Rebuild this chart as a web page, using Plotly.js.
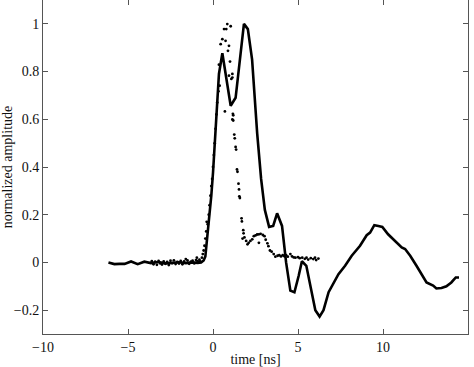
<!DOCTYPE html>
<html>
<head>
<meta charset="utf-8">
<script src="https://cdn.plot.ly/plotly-3.0.1.min.js"></script>
<style>html,body{margin:0;padding:0;background:#fff;}#chart{width:474px;height:367px;}</style>
</head>
<body>
<div id="chart"></div>
<script>
// Solid curve (simulated / reference pulse)
var solidX = [-6.15,-5.8,-5.5,-5.2,-4.82,-4.43,-4.04,-3.65,-3.2,-2.8,-2.4,-2.0,-1.6,-1.2,-0.9,-0.7,-0.55,-0.45,-0.37,-0.23,-0.1,0,0.1,0.2,0.35,0.55,0.76,1.04,1.33,1.58,1.82,2.05,2.3,2.6,2.83,3.05,3.3,3.54,3.77,4.06,4.3,4.55,4.79,5.04,5.23,5.49,5.82,6.02,6.27,6.5,6.8,7.09,7.38,7.77,8.16,8.65,9.04,9.24,9.49,9.73,9.96,10.3,10.7,11.1,11.3,11.6,11.97,12.27,12.56,12.95,13.14,13.44,13.73,14.02,14.28,14.47];
var solidY = [0,-0.007,-0.006,-0.006,0.004,-0.007,0.003,-0.003,0.002,-0.004,-0.002,0.001,-0.003,0.0,-0.002,0.0,0.008,0.025,0.084,0.18,0.28,0.376,0.5,0.64,0.79,0.877,0.79,0.657,0.69,0.85,1.0,0.978,0.85,0.54,0.35,0.22,0.149,0.153,0.206,0.153,0.0,-0.118,-0.125,-0.056,0.005,-0.014,-0.125,-0.2,-0.227,-0.2,-0.125,-0.09,-0.049,-0.014,0.028,0.07,0.114,0.125,0.156,0.153,0.149,0.118,0.09,0.063,0.056,0.028,-0.014,-0.049,-0.084,-0.097,-0.109,-0.107,-0.1,-0.084,-0.063,-0.063];

// Dotted curve (measured samples)
var dotX = [-3.6,-3.5,-3.4,-3.3,-3.2,-3.1,-3.0,-2.9,-2.8,-2.7,-2.6,-2.5,-2.4,-2.3,-2.2,-2.1,-2.0,-1.9,-1.8,-1.7,-1.6,-1.5,-1.4,-1.3,-1.2,-1.1,-1.0,-0.95,-0.9,-0.8,-0.75,-0.65,-0.6,-0.55,-0.5,-0.45,-0.4,-0.37,-0.31,-0.25,-0.2,-0.15,-0.1,-0.05,0.0,0.05,0.1,0.15,0.2,0.25,0.32,0.35,0.39,0.45,0.55,0.65,0.7,0.74,0.78,0.84,0.88,0.94,0.94,1.0,1.04,1.08,1.14,1.14,1.14,1.17,1.19,1.19,1.25,1.28,1.33,1.36,1.41,1.44,1.5,1.53,1.55,1.58,1.68,1.7,1.74,1.78,1.8,1.85,1.95,2.03,2.1,2.2,2.31,2.4,2.5,2.6,2.7,2.7,2.8,2.93,3.03,3.1,3.2,3.26,3.35,3.45,3.57,3.67,3.8,3.9,4.0,4.1,4.2,4.3,4.4,4.55,4.65,4.75,4.85,5.0,5.1,5.25,5.4,5.5,5.6,5.75,5.9,6.0,6.07,6.2];
var dotY = [0.005,-0.008,0.003,-0.01,0.006,-0.004,-0.009,0.004,-0.006,0.002,-0.011,0.007,-0.003,0.009,-0.007,0.002,-0.005,0.006,-0.008,0.004,0.014,0.008,-0.006,0.003,0.007,-0.004,0.01,0.02,0.005,0.012,0.004,0.02,0.035,0.05,0.07,0.1,0.13,0.17,0.16,0.2,0.24,0.28,0.32,0.35,0.4,0.45,0.5,0.56,0.62,0.67,0.717,0.829,0.741,0.915,0.936,0.978,0.633,0.929,0.978,0.999,0.887,0.908,0.783,0.842,0.99,0.769,0.79,0.775,0.599,0.623,0.595,0.617,0.536,0.52,0.484,0.473,0.39,0.38,0.33,0.306,0.277,0.27,0.185,0.172,0.1,0.135,0.122,0.105,0.09,0.076,0.082,0.09,0.097,0.11,0.113,0.117,0.118,0.082,0.12,0.115,0.11,0.095,0.08,0.068,0.05,0.045,0.035,0.024,0.028,0.03,0.025,0.03,0.026,0.03,0.024,0.035,0.025,0.021,0.02,0.022,0.018,0.02,0.015,0.02,0.012,0.018,0.014,0.02,0.01,0.016];

var xTicks = [-10,-5,0,5,10,15];
var xTickText = ['\u221210','\u22125','0','5','10','15'];
var yTicks = [-0.2,0,0.2,0.4,0.6,0.8,1];
var yTickText = ['\u22120.2','0','0.2','0.4','0.6','0.8','1'];

var traces = [
  {x: solidX, y: solidY, mode: 'lines', line: {color: '#000', width: 2.6}, hoverinfo: 'skip'},
  {x: dotX, y: dotY, mode: 'markers', marker: {color: '#000', size: 2.8}, hoverinfo: 'skip'}
];

var fontFam = "'Liberation Serif', 'Times New Roman', serif";
var axisCommon = {
  showgrid: false, zeroline: false, showline: true, linecolor: '#555', linewidth: 1,
  mirror: 'ticks', ticks: 'inside', ticklen: 5, tickcolor: '#555', tickwidth: 1,
  tickfont: {family: fontFam, size: 14, color: '#111'}, fixedrange: true
};

var layout = {
  width: 474, height: 367,
  margin: {l: 43, r: 6, t: 0, b: 33},
  paper_bgcolor: '#fff', plot_bgcolor: '#fff',
  font: {family: fontFam, size: 14, color: '#111'},
  showlegend: false,
  xaxis: Object.assign({}, axisCommon, {
    range: [-10, 15], tickvals: xTicks, ticktext: xTickText,
    title: {text: 'time [ns]', font: {family: fontFam, size: 14, color: '#111'}, standoff: 4}
  }),
  yaxis: Object.assign({}, axisCommon, {
    range: [-0.3, 1.1], tickvals: yTicks, ticktext: yTickText,
    title: {text: 'normalized amplitude', font: {family: fontFam, size: 14, color: '#111'}, standoff: 2}
  })
};

Plotly.newPlot('chart', traces, layout, {staticPlot: true, displayModeBar: false});
</script>
</body>
</html>
